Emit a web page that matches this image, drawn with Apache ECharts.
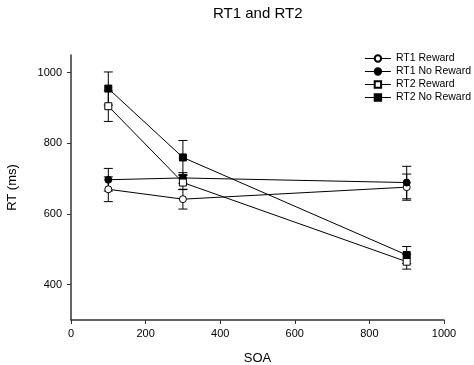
<!DOCTYPE html>
<html>
<head>
<meta charset="utf-8">
<script src="https://cdn.jsdelivr.net/npm/echarts@6/dist/echarts.min.js"></script>
<style>html,body{margin:0;padding:0;background:#fff}#c{width:474px;height:365px}</style>
</head>
<body>
<div id="c"></div>
<script>
const soa = [100, 300, 900];
const rt1Reward = [670, 642, 676];
const rt1RewardSE = [35, 28, 37];
const rt1NoReward = [697, 702, 689];
const rt1NoRewardSE = [32, 15, 46];
const rt2Reward = [905, 689, 465];
const rt2RewardSE = [43, 20, 21];
const rt2NoReward = [955, 760, 484];
const rt2NoRewardSE = [47, 48, 24];
const yTicks = [400, 600, 800, 1000];
const xTicks = [0, 200, 400, 600, 800, 1000];

const FONT = 'Liberation Sans, Arial, sans-serif';
const chart = echarts.init(document.getElementById('c'), null, {renderer: 'canvas'});

function lineSeries(name, vals, symbol, filled) {
  return {
    name: name, type: 'line',
    data: soa.map((x, i) => [x, vals[i]]),
    symbol: symbol, symbolSize: 7,
    lineStyle: {color: '#000', width: 1},
    itemStyle: {color: filled ? '#000' : '#fff', borderColor: '#000', borderWidth: 1},
    z: 5, animation: false
  };
}
function errSeries(vals, se) {
  return {
    type: 'custom', z: 3, animation: false, silent: true,
    data: soa.map((x, i) => [x, vals[i] - se[i], vals[i] + se[i]]),
    renderItem: function (params, api) {
      const lo = api.coord([api.value(0), api.value(1)]);
      const hi = api.coord([api.value(0), api.value(2)]);
      const w = 4.5;
      const st = {stroke: '#000', lineWidth: 1};
      return {type: 'group', children: [
        {type: 'line', shape: {x1: hi[0], y1: hi[1], x2: lo[0], y2: lo[1]}, style: st},
        {type: 'line', shape: {x1: hi[0] - w, y1: hi[1], x2: hi[0] + w, y2: hi[1]}, style: st},
        {type: 'line', shape: {x1: lo[0] - w, y1: lo[1], x2: lo[0] + w, y2: lo[1]}, style: st}
      ]};
    }
  };
}

chart.setOption({
  animation: false,
  backgroundColor: '#fff',
  title: {text: 'RT1 and RT2', left: 208, top: 1,
    textStyle: {fontFamily: FONT, fontSize: 15, fontWeight: 'normal', color: '#000'}},
  legend: {
    orient: 'vertical', right: 3, top: 53, padding: 0, itemGap: 2, itemWidth: 26, itemHeight: 8,
    lineStyle: {width: 1},
    textStyle: {fontFamily: FONT, fontSize: 10.5, color: '#000'},
    data: ['RT1 Reward', 'RT1 No Reward', 'RT2 Reward', 'RT2 No Reward']
  },
  grid: {left: 71, right: 30, top: 55, bottom: 45, containLabel: false, outerBoundsMode: 'none'},
  xAxis: {
    type: 'value', min: 0, max: 1000, interval: 200,
    name: 'SOA', nameLocation: 'middle', nameGap: 32,
    nameTextStyle: {fontFamily: FONT, fontSize: 13, color: '#000'},
    axisLine: {show: true, onZero: false, lineStyle: {color: '#333', width: 1.5}},
    axisTick: {show: true, length: 4, lineStyle: {color: '#333'}},
    axisLabel: {fontFamily: FONT, fontSize: 11, color: '#000', margin: 8,
      formatter: v => String(v)},
    splitLine: {show: false}
  },
  yAxis: {
    type: 'value', min: 300, max: 1050,
    name: 'RT (ms)', nameLocation: 'middle', nameGap: 52,
    nameTextStyle: {fontFamily: FONT, fontSize: 13, color: '#000'},
    axisLine: {show: true, onZero: false, lineStyle: {color: '#333', width: 1.5}},
    axisTick: {show: true, length: 4, customValues: yTicks, lineStyle: {color: '#333'}},
    axisLabel: {fontFamily: FONT, fontSize: 11, color: '#000', margin: 9, customValues: yTicks,
      formatter: v => String(v)},
    splitLine: {show: false}
  },
  series: [
    errSeries(rt1Reward, rt1RewardSE),
    errSeries(rt1NoReward, rt1NoRewardSE),
    errSeries(rt2Reward, rt2RewardSE),
    errSeries(rt2NoReward, rt2NoRewardSE),
    lineSeries('RT1 Reward', rt1Reward, 'circle', false),
    lineSeries('RT1 No Reward', rt1NoReward, 'circle', true),
    lineSeries('RT2 Reward', rt2Reward, 'rect', false),
    lineSeries('RT2 No Reward', rt2NoReward, 'rect', true)
  ]
});
</script>
</body>
</html>
